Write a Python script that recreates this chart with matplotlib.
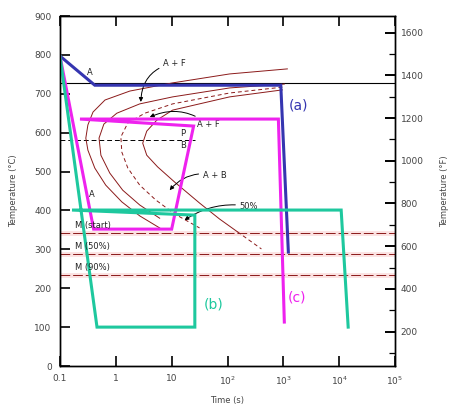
import matplotlib
matplotlib.use('Agg')
import matplotlib.pyplot as plt
from matplotlib.ticker import FixedLocator, NullFormatter

# ---------------- data ----------------
# cooling paths (time s, temperature C)
path_a_t = [0.1, 0.42, 900, 1230]
path_a_T = [797, 722, 722, 293]
path_b_t = [0.1, 0.46, 26, 26, 0.164, 10860, 14500]
path_b_T = [797, 100, 100, 388, 401, 401, 100]
path_c_t = [0.1, 0.40, 10, 24.7, 0.228, 815, 1042]
path_c_T = [797, 352, 352, 617, 635, 635, 113]

# transformation curves
c1_t = [1180, 109, 10.4, 1.78, 0.64, 0.39, 0.316, 0.29, 0.316, 0.42, 0.66, 1.28, 2.68, 6.1]
c1_T = [764, 751, 728, 707, 684, 653, 620, 586, 555, 509, 465, 422, 386, 355]
c2_t = [1042, 109, 10.4, 2.68, 1.04, 0.61, 0.50, 0.54, 0.78, 1.33, 2.68, 6.1]
c2_T = [725, 715, 692, 674, 650, 622, 586, 542, 496, 452, 414, 380]
c3_t = [960, 109, 10.4, 3.3, 1.64, 1.23, 1.28, 1.64, 2.68, 5.18, 11.3, 31.6]
c3_T = [717, 702, 674, 650, 625, 589, 550, 509, 465, 427, 391, 355]
c4_t = [960, 109, 10.4, 5.4, 3.58, 3.03, 3.58, 5.6, 11.3, 31.6, 72, 151]
c4_T = [710, 692, 658, 632, 604, 573, 542, 512, 473, 419, 378, 345]
c4_tail_t = [151, 405]
c4_tail_T = [345, 301]

eutectoid_T = 727
pb_T = 580
pb_t_end = 26
m_levels = [342, 288, 234]
m_labels = ['M (start)', 'M (50%)', 'M (90%)']

x_ticks = [0.1, 1, 10, 100, 1000, 1e4, 1e5]
x_labels = ['0.1', '1', '10', '10$^2$', '10$^3$', '10$^4$', '10$^5$']
yC_ticks = list(range(0, 1000, 100))
yF_major = list(range(200, 1700, 200))
yF_minor = list(range(100, 1700, 200))

# ---------------- figure ----------------
fig = plt.figure(figsize=(4.55, 4.11), dpi=100)
ax = fig.add_axes([60/455, 1-366/411, 335/455, 350/411])
ax.set_xscale('log')
ax.set_xlim(0.1, 1e5)
ax.set_ylim(0, 900)

red = '#8B1A1A'
# M lines with pink halo
for lv in m_levels:
    ax.plot([0.1, 1e5], [lv, lv], color='#FBE2E2', lw=3.5, solid_capstyle='butt', zorder=1)
    ax.plot([0.1, 1e5], [lv, lv], color=red, lw=0.7, dashes=(10, 3), zorder=2)
for lv, lb in zip(m_levels, m_labels):
    ax.text(0.185, lv + 20, lb, fontsize=6, color='#222', va='center', ha='left', zorder=5)

ax.plot([0.1, 1e5], [eutectoid_T, eutectoid_T], color='black', lw=0.8, zorder=2)
ax.plot([0.1, pb_t_end], [pb_T, pb_T], color='black', lw=0.7, dashes=(5, 3), zorder=2)

ax.plot(c1_t, c1_T, color=red, lw=0.7, zorder=2)
ax.plot(c2_t, c2_T, color=red, lw=0.7, zorder=2)
ax.plot(c3_t, c3_T, color=red, lw=0.7, dashes=(4, 3), zorder=2)
ax.plot(c4_t, c4_T, color=red, lw=0.7, zorder=2)
ax.plot(c4_tail_t, c4_tail_T, color=red, lw=0.7, dashes=(4, 3), zorder=2)

blue = '#3535B0'
mag = '#EE22EE'
green = '#1EC89E'
ax.plot(path_a_t, path_a_T, color=blue, lw=2.2, zorder=4, solid_joinstyle='miter')
ax.plot(path_c_t, path_c_T, color=mag, lw=2.2, zorder=4, solid_joinstyle='miter')
ax.plot(path_b_t, path_b_T, color=green, lw=2.2, zorder=4, solid_joinstyle='miter')

ax.text(1250, 670, '(a)', color=blue, fontsize=10, ha='left', va='center', zorder=6)
ax.text(37, 157, '(b)', color=green, fontsize=10, ha='left', va='center', zorder=6)
ax.text(1180, 177, '(c)', color=mag, fontsize=10, ha='left', va='center', zorder=6)

# labels & annotations
ann = dict(fontsize=6, color='#222')
ax.text(0.34, 755, 'A', ha='center', va='center', **ann)
ax.text(0.37, 440, 'A', ha='center', va='center', **ann)
ax.text(15.7, 599, 'P', ha='center', va='center', **ann)
ax.text(15.7, 566, 'B', ha='center', va='center', **ann)
ax.annotate('A + F', xy=(2.8, 679), xytext=(7.0, 779), ha='left', va='center',
            arrowprops=dict(arrowstyle='-|>', color='black', lw=0.7, mutation_scale=6,
                            connectionstyle='arc3,rad=0.4', shrinkA=1, shrinkB=0), **ann)
ax.annotate('A + F', xy=(4.05, 640), xytext=(28, 622), ha='left', va='center',
            arrowprops=dict(arrowstyle='-|>', color='black', lw=0.7, mutation_scale=6,
                            connectionstyle='arc3,rad=0.3', shrinkA=1, shrinkB=0), **ann)
ax.annotate('A + B', xy=(9.2, 452), xytext=(36, 491), ha='left', va='center',
            arrowprops=dict(arrowstyle='-|>', color='black', lw=0.7, mutation_scale=6,
                            connectionstyle='arc3,rad=0.3', shrinkA=1, shrinkB=0), **ann)
ax.annotate('50%', xy=(17, 375), xytext=(164, 411), ha='left', va='center',
            arrowprops=dict(arrowstyle='-|>', color='black', lw=0.7, mutation_scale=6,
                            connectionstyle='arc3,rad=0.2', shrinkA=1, shrinkB=0), **ann)

# axes styling
tick_col = '#444'
ax.set_xticks(x_ticks)
ax.set_xticklabels(x_labels)
ax.xaxis.set_minor_locator(FixedLocator([]))
ax.set_yticks(yC_ticks)
ax.tick_params(axis='both', which='major', direction='in', length=7, width=1.2,
               labelsize=6.5, labelcolor=tick_col, top=True, pad=6)
ax.tick_params(axis='y', which='major', right=False)
ax.set_xlabel('Time (s)', fontsize=6, color=tick_col, labelpad=7)
ax.set_ylabel('Temperature (\u00b0C)', fontsize=6, color=tick_col, labelpad=12)

ax2 = ax.twinx()
ax2.set_ylim(39, 1678)
ax2.yaxis.set_major_locator(FixedLocator(yF_major))
ax2.yaxis.set_minor_locator(FixedLocator(yF_minor))
ax2.yaxis.set_minor_formatter(NullFormatter())
ax2.tick_params(axis='y', which='major', direction='in', length=7, width=1.4,
                labelsize=6.5, labelcolor=tick_col, pad=4)
ax2.tick_params(axis='y', which='minor', direction='in', length=4, width=0.9)
ax2.set_ylabel('Temperature (\u00b0F)', fontsize=6, color=tick_col, labelpad=12)

for a in (ax, ax2):
    for s in a.spines.values():
        s.set_linewidth(1.0)

fig.savefig('out.png', dpi=100)
